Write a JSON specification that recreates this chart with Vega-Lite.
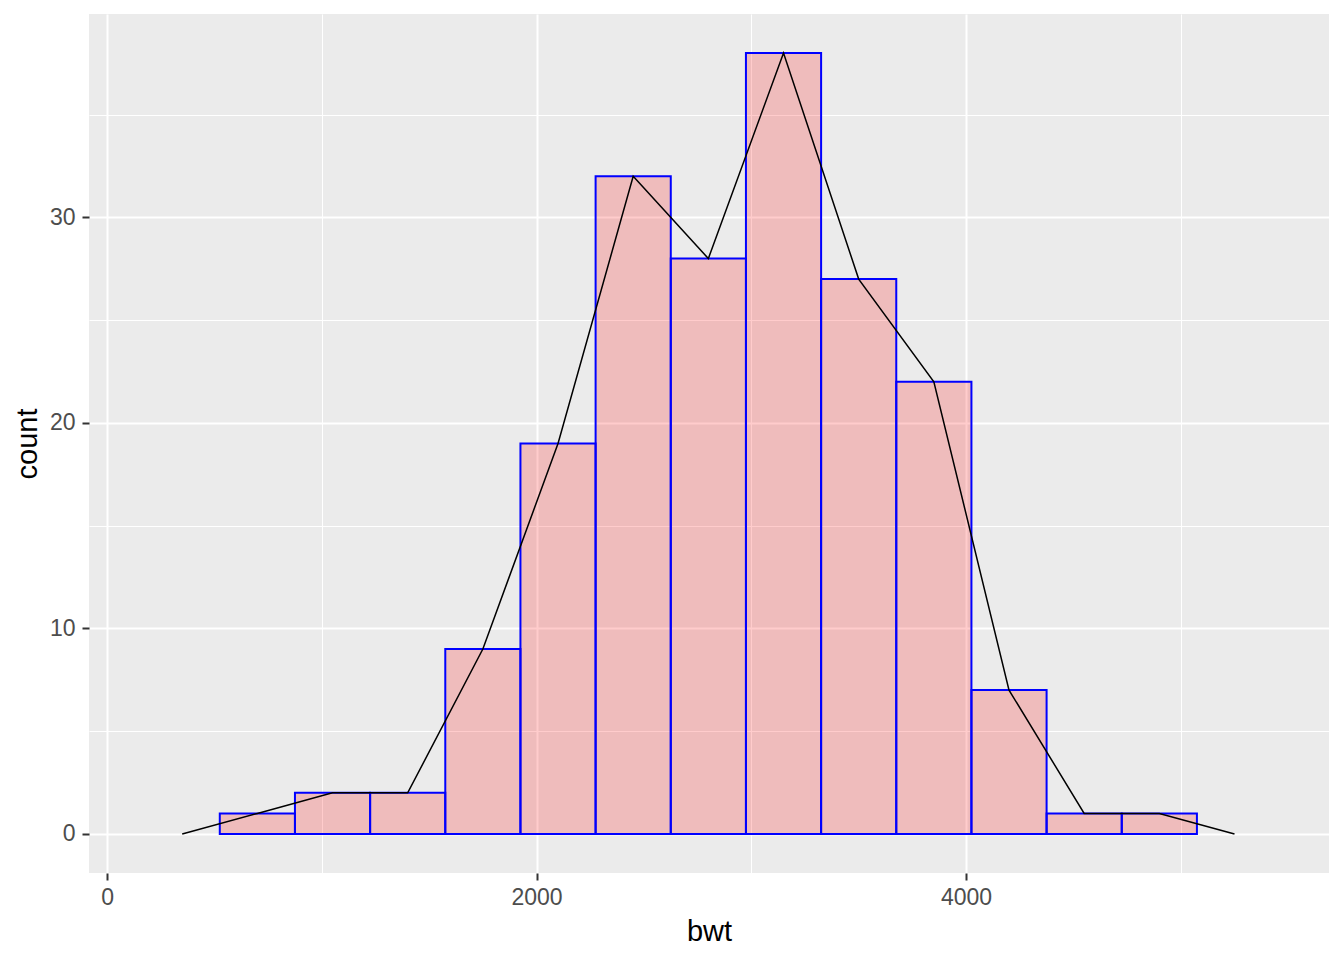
{
  "$schema": "https://vega.github.io/schema/vega-lite/v6.json",
  "autosize": {"type": "none"},
  "width": 1240,
  "height": 859,
  "padding": {"left": 89, "top": 14, "right": 15, "bottom": 87},
  "background": "white",
  "config": {
    "font": "Liberation Sans",
    "view": {"fill": "#EBEBEB", "stroke": null},
    "axis": {
      "domain": false,
      "gridColor": "white",
      "tickColor": "#333333",
      "tickWidth": 2,
      "tickSize": 7,
      "labelFontSize": 23,
      "labelColor": "#4D4D4D",
      "labelFont": "Liberation Sans",
      "titleFont": "Liberation Sans",
      "titleFontSize": 29,
      "titleFontWeight": "normal",
      "titleColor": "black"
    }
  },
  "datasets": {
    "bins": [
      {"start": 525, "end": 875, "count": 1},
      {"start": 875, "end": 1225, "count": 2},
      {"start": 1225, "end": 1575, "count": 2},
      {"start": 1575, "end": 1925, "count": 9},
      {"start": 1925, "end": 2275, "count": 19},
      {"start": 2275, "end": 2625, "count": 32},
      {"start": 2625, "end": 2975, "count": 28},
      {"start": 2975, "end": 3325, "count": 38},
      {"start": 3325, "end": 3675, "count": 27},
      {"start": 3675, "end": 4025, "count": 22},
      {"start": 4025, "end": 4375, "count": 7},
      {"start": 4375, "end": 4725, "count": 1},
      {"start": 4725, "end": 5075, "count": 1}
    ],
    "poly": [
      {"bwt": 350, "count": 0},
      {"bwt": 700, "count": 1},
      {"bwt": 1050, "count": 2},
      {"bwt": 1400, "count": 2},
      {"bwt": 1750, "count": 9},
      {"bwt": 2100, "count": 19},
      {"bwt": 2450, "count": 32},
      {"bwt": 2800, "count": 28},
      {"bwt": 3150, "count": 38},
      {"bwt": 3500, "count": 27},
      {"bwt": 3850, "count": 22},
      {"bwt": 4200, "count": 7},
      {"bwt": 4550, "count": 1},
      {"bwt": 4900, "count": 1},
      {"bwt": 5250, "count": 0}
    ]
  },
  "resolve": {"axis": {"x": "independent", "y": "independent"}},
  "layer": [
    {
      "data": {"name": "bins"},
      "mark": {"type": "bar", "fill": "red", "fillOpacity": 0.2, "stroke": "blue", "strokeWidth": 2},
      "encoding": {
        "x": {"field": "start", "type": "quantitative",
              "scale": {"domain": [-84, 5690], "nice": false, "zero": false},
              "axis": {"orient": "bottom", "values": [1000, 3000, 5000], "grid": true, "gridWidth": 1, "labels": false, "ticks": false, "title": null}},
        "x2": {"field": "end"},
        "y": {"field": "count", "type": "quantitative",
              "scale": {"domain": [-1.9, 39.9], "nice": false, "zero": false},
              "axis": {"orient": "left", "values": [5, 15, 25, 35], "grid": true, "gridWidth": 1, "labels": false, "ticks": false, "title": null}},
        "y2": {"datum": 0}
      }
    },
    {
      "data": {"name": "poly"},
      "mark": {"type": "line", "color": "black", "strokeWidth": 1.5},
      "encoding": {
        "x": {"field": "bwt", "type": "quantitative",
              "axis": {"orient": "bottom", "values": [0, 2000, 4000], "format": "d", "grid": true, "gridWidth": 2, "labelPadding": 6, "title": "bwt", "titlePadding": 8}},
        "y": {"field": "count", "type": "quantitative",
              "axis": {"orient": "left", "values": [0, 10, 20, 30], "format": "d", "grid": true, "gridWidth": 2, "labelPadding": 7, "title": "count", "titlePadding": 7}}
      }
    }
  ]
}
